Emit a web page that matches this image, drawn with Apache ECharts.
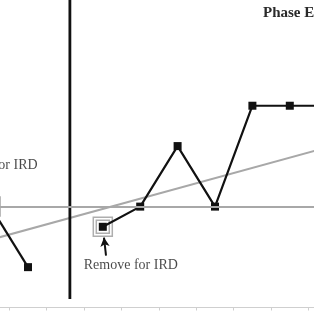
<!DOCTYPE html>
<html>
<head>
<meta charset="utf-8">
<script src="https://cdn.jsdelivr.net/npm/echarts@6/dist/echarts.min.js"></script>
<style>
  html, body { margin: 0; padding: 0; background: #fff; }
  #chart { width: 314px; height: 314px; }
</style>
</head>
<body>
<div id="chart"></div>
<script>
// ---- data (session number, value) ----
const phaseASessions = [1, 2];
const phaseAValues   = [50, 20];
const phaseBSessions = [4, 5, 6, 7, 8, 9, 10];
const phaseBValues   = [40, 50, 80, 50, 100, 100, 100];
const removedSessions = [1, 4];
const removedValues   = [50, 40];
const removedLabels   = ['Remove for IRD', 'Remove for IRD'];
const levelValue = 50;                 // horizontal reference line
const trendSessions = [1, 10];
const trendValues   = [33.6, 79.4];    // trend line end values
const phaseChangeAt = 3.12;            // session where phase line sits
const phaseLineRange = [4.2, 152.4];
const phaseTitle = 'Phase E';
const arrowFrom = [4.086, 25.7];
const arrowTo   = [4.032, 34.65];

const zip = (xs, ys) => xs.map((x, i) => [x, ys[i]]);
const serif = '"Liberation Serif", "Times New Roman", serif';

const chart = echarts.init(document.getElementById('chart'), null, { renderer: 'canvas' });

chart.setOption({
  animation: false,
  backgroundColor: '#ffffff',
  title: {
    text: phaseTitle,
    left: 263, top: 6, padding: 0,
    textStyle: { fontFamily: serif, fontWeight: 'bold', fontSize: 15, color: '#2a2a2a' }
  },
  grid: { left: -28.1, right: -31.9, top: 0, bottom: 6.5, containLabel: false, outerBoundsMode: 'none' },
  xAxis: {
    type: 'value', min: 0.5, max: 10.5, interval: 1,
    axisLine: { show: true, lineStyle: { color: '#cfcfcf', width: 1 } },
    axisTick: { show: true, length: 3, lineStyle: { color: '#cfcfcf' } },
    axisLabel: { show: false },
    splitLine: { show: false }
  },
  yAxis: { type: 'value', min: 0, max: 152.4, show: false, splitLine: { show: false } },
  series: [
    {
      name: 'trend', type: 'line', z: 1,
      data: zip(trendSessions, trendValues),
      symbol: 'none',
      lineStyle: { color: '#a8a8a8', width: 2 },
      markLine: {
        silent: true, symbol: 'none', label: { show: false },
        lineStyle: { color: '#a8a8a8', width: 2, type: 'solid' },
        data: [{ yAxis: levelValue }]
      }
    },
    {
      name: 'phaseLine', type: 'line', z: 2,
      data: phaseLineRange.map(v => [phaseChangeAt, v]),
      symbol: 'none',
      lineStyle: { color: '#111', width: 2.8 }
    },
    {
      name: 'boxOuter', type: 'scatter', z: 3,
      data: zip(removedSessions, removedValues),
      symbol: 'rect', symbolSize: 19,
      itemStyle: { color: 'rgba(0,0,0,0)', borderColor: '#9a9a9a', borderWidth: 1.5 }
    },
    {
      name: 'boxInner', type: 'scatter', z: 3,
      data: zip(removedSessions, removedValues).map((d, i) => ({
        value: d,
        label: {
          show: true, formatter: removedLabels[i],
          position: 'inside',
          offset: i === 0 ? [0, -41.6] : [28, 39],
          fontFamily: serif, fontSize: 14, color: '#1a1a1a'
        }
      })),
      symbol: 'rect', symbolSize: 13,
      itemStyle: { color: 'rgba(0,0,0,0)', borderColor: '#9a9a9a', borderWidth: 1.5 },
      markLine: {
        silent: true, symbol: ['none', 'arrow'], symbolSize: [7, 9],
        label: { show: false },
        lineStyle: { color: '#111', width: 2, type: 'solid' },
        data: [[{ coord: arrowFrom }, { coord: arrowTo }]]
      }
    },
    {
      name: 'phaseA', type: 'line', z: 4,
      data: zip(phaseASessions, phaseAValues),
      symbol: 'rect', symbolSize: 8,
      lineStyle: { color: '#111', width: 2.2 },
      itemStyle: { color: '#111' }
    },
    {
      name: 'phaseB', type: 'line', z: 4,
      data: zip(phaseBSessions, phaseBValues),
      symbol: 'rect', symbolSize: 8,
      lineStyle: { color: '#111', width: 2.2 },
      itemStyle: { color: '#111' }
    }
  ]
});
</script>
</body>
</html>
